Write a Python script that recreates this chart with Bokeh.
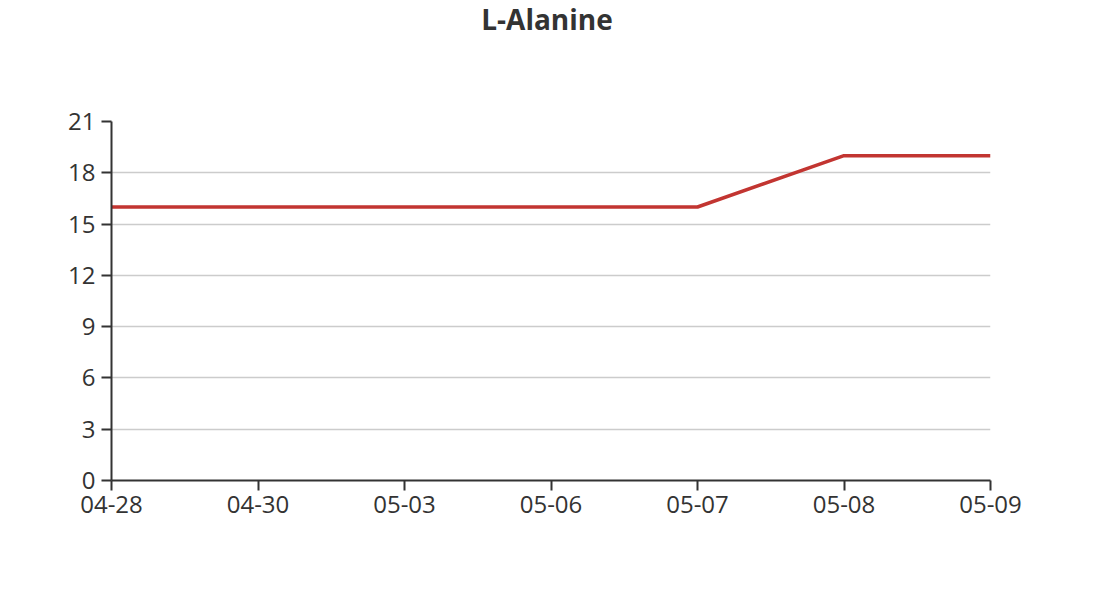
from bokeh.plotting import figure
from bokeh.models import Range1d, FixedTicker, Div
from bokeh.layouts import column
from bokeh.embed import file_html
from bokeh.resources import INLINE

title_text = "L-Alanine"
dates = ["04-28", "04-30", "05-03", "05-06", "05-07", "05-08", "05-09"]
values = [16, 16, 16, 16, 16, 19, 19]
y_ticks = [0, 3, 6, 9, 12, 15, 18, 21]

FONT = "Open Sans"
TXT = "#333333"

xs = list(range(len(dates)))
y_max = y_ticks[-1]

TITLE_H = 60

title_div = Div(
    text=('<div style="width:1060px;text-align:center;padding-left:24px;font-family:\'Open Sans\';'
          'font-size:28px;font-weight:bold;color:#333333;line-height:34px;margin-top:-3px;">'
          + title_text + '</div>'),
    width=1084, height=TITLE_H)

p = figure(width=1084, height=514, output_backend="svg", toolbar_location=None,
           x_range=Range1d(0, len(dates) - 1), y_range=Range1d(0, y_max),
           min_border_left=111, min_border_right=94, min_border_top=51,
           min_border_bottom=104, outline_line_color=None)
p.title = None

p.line(xs, values, line_color="#c23531", line_width=3.5)

p.xaxis.ticker = FixedTicker(ticks=xs)
p.xaxis.major_label_overrides = {i: d for i, d in zip(xs, dates)}
p.yaxis.ticker = FixedTicker(ticks=y_ticks)

for ax in (p.xaxis[0], p.yaxis[0]):
    ax.axis_line_color = TXT
    ax.axis_line_width = 2
    ax.major_tick_line_color = TXT
    ax.major_tick_line_width = 2
    ax.major_tick_out = 10
    ax.major_tick_in = 0
    ax.minor_tick_line_color = None
    ax.major_label_text_font = FONT
    ax.major_label_text_font_size = "24px"
    ax.major_label_text_color = TXT

p.xaxis.major_label_standoff = 5
p.yaxis.major_label_standoff = 6

p.xgrid.grid_line_color = None
p.ygrid.grid_line_color = "#cccccc"
p.ygrid.grid_line_width = 1.5

layout = column(title_div, p, spacing=0)
open("out.html", "w").write(file_html(layout, INLINE))
